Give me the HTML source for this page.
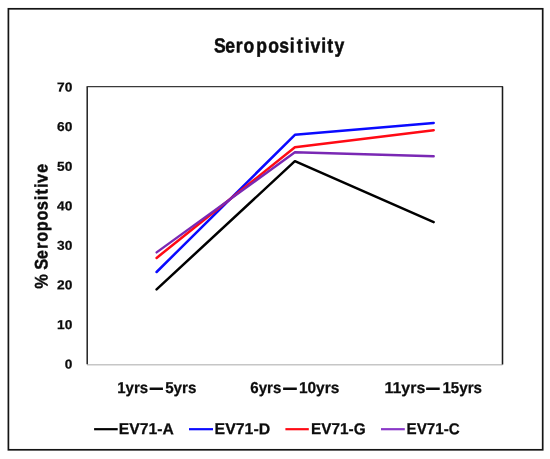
<!DOCTYPE html>
<html>
<head>
<meta charset="utf-8">
<title>Seropositivity</title>
<style>
html,body{margin:0;padding:0;background:#fff;}
body{width:550px;height:459px;overflow:hidden;}
svg{display:block;}
text{text-rendering:geometricPrecision;font-family:"Liberation Sans",sans-serif;font-weight:bold;fill:#0c0c0c;stroke:#0c0c0c;stroke-width:0.25;}
.dash{stroke-width:0.9;}
.ttl{stroke-width:0.5;}
.ytl{stroke-width:0.45;}
</style>
</head>
<body>
<svg width="550" height="459" viewBox="0 0 550 459">
<rect x="0" y="0" width="550" height="459" fill="#ffffff"/>
<!-- outer frame -->
<rect x="8.4" y="8.8" width="534.3" height="441" fill="none" stroke="#141414" stroke-width="1.7"/>
<!-- plot frame -->
<line x1="87" y1="364.7" x2="502.5" y2="364.7" stroke="#c6c6c6" stroke-width="1.5"/>
<line x1="87.2" y1="86.7" x2="87.2" y2="364.2" stroke="#1a1a1a" stroke-width="1.45"/>
<line x1="86.6" y1="86.7" x2="503.1" y2="86.7" stroke="#3a3a3a" stroke-width="1.2"/>
<line x1="502.5" y1="86.7" x2="502.5" y2="364.6" stroke="#1a1a1a" stroke-width="1.55"/>
<!-- title -->
<text class="ttl" transform="translate(215 52.4) rotate(0.05) scale(0.86 1)" font-size="20.4" x="-1.23 12.01 24.18 33.19 47.99 61.91 74.79 87.06 94.98 104.5 110.96 123.57 130.67 138.95" y="0">Seropositivity</text>
<!-- y title -->
<text class="ytl" transform="translate(47.5 288.3) rotate(-89.95) scale(0.9 1)" font-size="18.2" x="-0.47 15.25 20.52 32.34 43.72 51.66 63.44 75.44 86.83 97.87 104.19 111.48 117.11 128.06" y="0">% Seropositive</text>
<!-- y ticks -->
<text x="57" y="91.51" transform="rotate(0.05 57 91.51)" font-size="12.9" textLength="15.3" lengthAdjust="spacingAndGlyphs">70</text>
<text x="57" y="131.08" transform="rotate(0.05 57 131.08)" font-size="12.9" textLength="15.3" lengthAdjust="spacingAndGlyphs">60</text>
<text x="57" y="170.65" transform="rotate(0.05 57 170.65)" font-size="12.9" textLength="15.3" lengthAdjust="spacingAndGlyphs">50</text>
<text x="57" y="210.22" transform="rotate(0.05 57 210.22)" font-size="12.9" textLength="15.3" lengthAdjust="spacingAndGlyphs">40</text>
<text x="57" y="249.79" transform="rotate(0.05 57 249.79)" font-size="12.9" textLength="15.3" lengthAdjust="spacingAndGlyphs">30</text>
<text x="57" y="289.36" transform="rotate(0.05 57 289.36)" font-size="12.9" textLength="15.3" lengthAdjust="spacingAndGlyphs">20</text>
<text x="57" y="328.93" transform="rotate(0.05 57 328.93)" font-size="12.9" textLength="15.3" lengthAdjust="spacingAndGlyphs">10</text>
<text x="64.7" y="368.5" transform="rotate(0.05 64.7 368.5)" font-size="12.9" textLength="7.6" lengthAdjust="spacingAndGlyphs">0</text>
<!-- x labels -->
<text y="393.0" transform="rotate(0.05 117.2 393.0)" font-size="15.8"><tspan x="117.2" textLength="30.9" lengthAdjust="spacingAndGlyphs">1yrs</tspan><tspan x="150.1" textLength="12.6" lengthAdjust="spacingAndGlyphs" class="dash">—</tspan><tspan x="165.2" textLength="31.2" lengthAdjust="spacingAndGlyphs">5yrs</tspan></text>
<text y="393.0" transform="rotate(0.05 250.3 393.0)" font-size="15.8"><tspan x="250.3" textLength="31" lengthAdjust="spacingAndGlyphs">6yrs</tspan><tspan x="283.5" textLength="12.9" lengthAdjust="spacingAndGlyphs" class="dash">—</tspan><tspan x="298.9" textLength="40.4" lengthAdjust="spacingAndGlyphs">10yrs</tspan></text>
<text y="393.0" transform="rotate(0.05 384.5 393.0)" font-size="15.8"><tspan x="384.5" textLength="40.8" lengthAdjust="spacingAndGlyphs">11yrs</tspan><tspan x="426.6" textLength="12.8" lengthAdjust="spacingAndGlyphs" class="dash">—</tspan><tspan x="442.4" textLength="39.6" lengthAdjust="spacingAndGlyphs">15yrs</tspan></text>
<!-- series -->
<g fill="none" stroke-linecap="round" stroke-linejoin="round">
<polyline points="156.6,289.4 294.9,161.2 433.7,222.1" stroke="#000000" stroke-width="2.5"/>
<polyline points="156.6,272 294.9,134.8 433.7,122.9" stroke="#0a0aff" stroke-width="2.5"/>
<polyline points="156.6,257.9 294.9,147.3 433.7,130.2" stroke="#ff0a14" stroke-width="2.5"/>
<polyline points="156.6,252.4 294.9,152.3 433.7,156.2" stroke="#7a28b4" stroke-width="2.4"/>
</g>
<!-- legend -->
<g stroke-width="2.2" stroke-linecap="butt">
<line x1="94.1" y1="429.2" x2="117.7" y2="429.2" stroke="#000"/>
<line x1="189" y1="429.2" x2="213" y2="429.2" stroke="#0a0aff"/>
<line x1="285.4" y1="429.2" x2="308.8" y2="429.2" stroke="#ff0a14"/>
<line x1="381" y1="429.2" x2="404.8" y2="429.2" stroke="#8a38c8"/>
</g>
<text x="118.8" y="434.1" transform="rotate(0.05 118.8 434.1)" font-size="15.8" textLength="55.0" lengthAdjust="spacingAndGlyphs">EV71-A</text>
<text x="214.6" y="434.1" transform="rotate(0.05 214.6 434.1)" font-size="15.8" textLength="55.6" lengthAdjust="spacingAndGlyphs">EV71-D</text>
<text x="311.0" y="434.1" transform="rotate(0.05 311.0 434.1)" font-size="15.8" textLength="54.6" lengthAdjust="spacingAndGlyphs">EV71-G</text>
<text x="406.6" y="434.1" transform="rotate(0.05 406.6 434.1)" font-size="15.8" textLength="53.1" lengthAdjust="spacingAndGlyphs">EV71-C</text>
</svg>
</body>
</html>
